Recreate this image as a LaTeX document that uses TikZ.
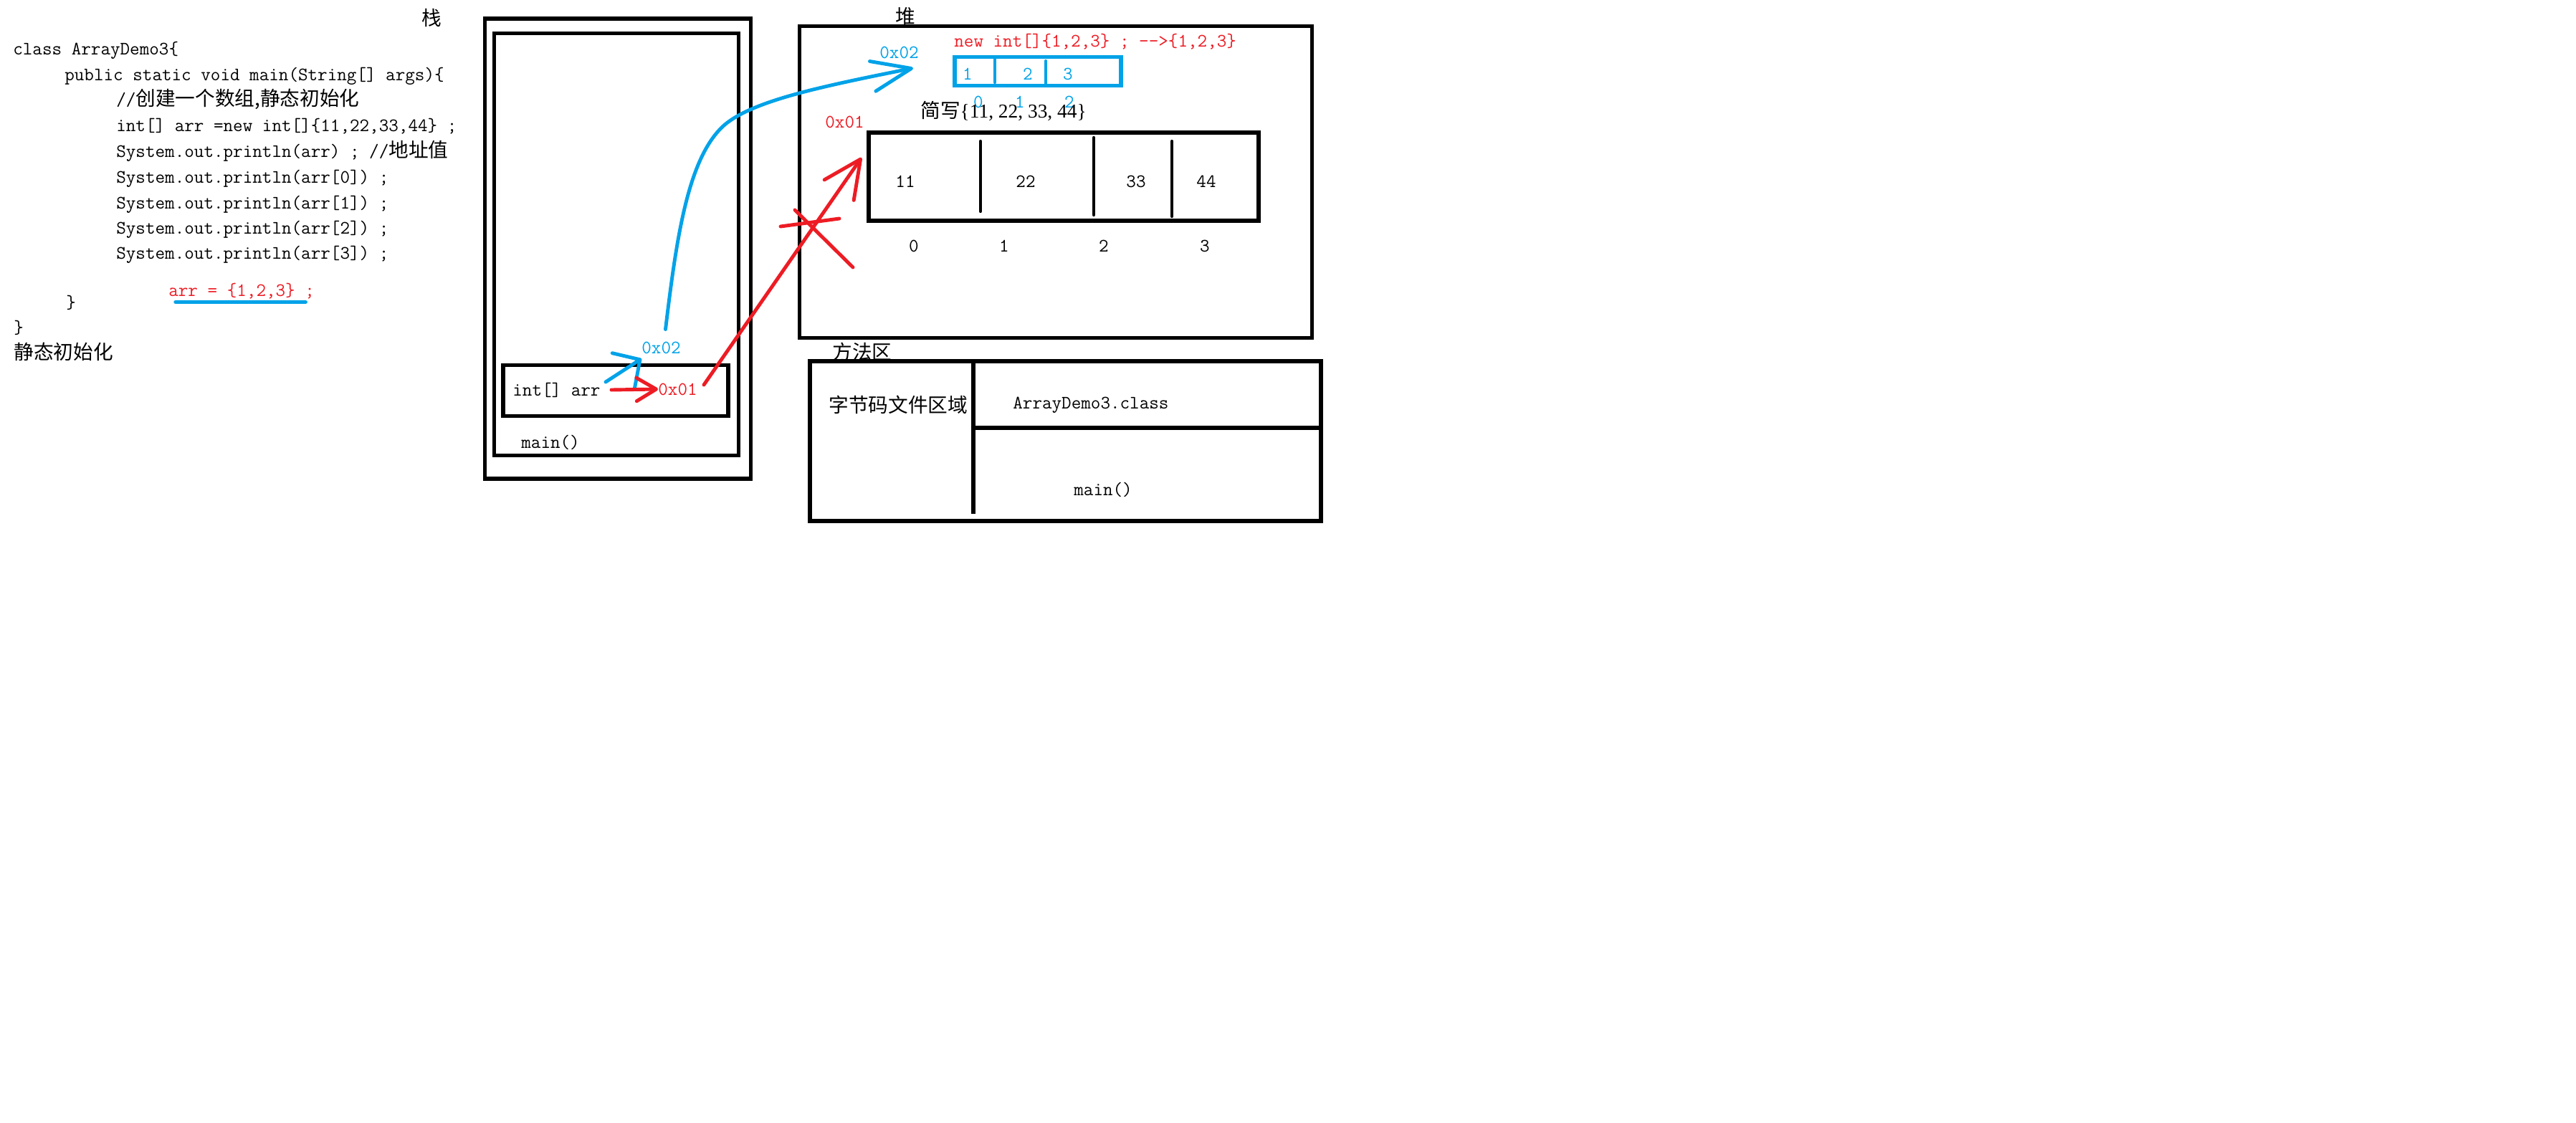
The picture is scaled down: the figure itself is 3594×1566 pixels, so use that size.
\documentclass[tikz,border=0pt]{standalone}
\usepackage{fontspec}
\newfontfamily\cjk[Scale=1.05]{Noto Sans CJK SC}
\newfontfamily\serifnum[Scale=1.04]{Liberation Serif}
\usetikzlibrary{arrows.meta}
\definecolor{paintblue}{RGB}{0,162,232}
\definecolor{paintred}{RGB}{237,28,36}
\newcommand{\codefont}{\ttfamily\fontsize{15pt}{18pt}\selectfont}
\tikzset{
  longbarb/.tip={Straight Barb[round, length=1.1cm, width=0.85cm]},
  bigbarb/.tip={Straight Barb[round, length=1.05cm, width=1.0cm]},
  smallbarb/.tip={Straight Barb[round, length=0.55cm, width=1.15cm]},
  redbarb/.tip={Straight Barb[round, length=0.55cm, width=0.65cm]}
}

\begin{document}
\begin{tikzpicture}[
  x=0.02cm, y=-0.02cm,
  txt/.style={font=\codefont, inner sep=0pt, anchor=west, text height=13.2pt, text depth=4pt},
  redtxt/.style={txt, text=paintred},
  bluetxt/.style={txt, text=paintblue},
  cell/.style={txt, anchor=center},
  bluecell/.style={bluetxt, anchor=center},
  boxline/.style={draw, line width=3pt, inner sep=0pt},
  sepline/.style={line width=3pt},
  divider/.style={line width=2.4pt, line cap=round},
  redpen/.style={draw=paintred, line width=2.8pt, line cap=round, line join=round},
  bluepen/.style={draw=paintblue, line width=2.8pt, line cap=round, line join=round}
]
\useasboundingbox (0,0) rectangle (3594,1566);

% ======================================================
% =============== CODE =================================
% ======================================================
\node[txt] (c1) at (18,68) {class ArrayDemo3\{};
\node[txt] (c2) at (90,104) {public static void main(String[] args)\{};
\node[txt] (c3) at (162,139) {//{\cjk 创建一个数组,静态初始化}};
\node[txt] (c4) at (162,175) {int[] arr =new int[]\{11,22,33,44\} ;};
\node[txt] (c5) at (162,211) {System.out.println(arr) ; //{\cjk 地址值}};
\node[txt] (c6) at (162,247) {System.out.println(arr[0]) ;};
\node[txt] (c7) at (162,283) {System.out.println(arr[1]) ;};
\node[txt] (c8) at (162,318) {System.out.println(arr[2]) ;};
\node[txt] (c9) at (162,353) {System.out.println(arr[3]) ;};
\node[redtxt] (c10) at (235,405) {arr = \{1,2,3\} ;};
\node[txt] (c11) at (92,422) {\}};
\node[txt] (c12) at (19,457) {\}};
\node[txt] (c13) at (19,493) {\cjk 静态初始化};

% underline
\draw[bluepen, line width=3pt] ([shift={(10,1)}]c10.south west) -- ([shift={(-13,1)}]c10.south east);

% ======================================================
% =============== STACK ================================
% ======================================================
\node[txt] (stackTitle) at (588,27) {\cjk 栈};
\node[boxline, minimum width=7.42cm, minimum height=12.84cm] (stack) at (862,347) {};
\node[boxline, minimum width=6.82cm, minimum height=11.78cm] (mainFrame) at (860,341) {};
\node[boxline, minimum width=6.28cm, minimum height=1.42cm] (arrSlot) at (859,545) {};
\node[txt] (arrVar) at (715,544) {int[] arr};
\node[txt] (mainLbl) at (727,617) {main()};
\node[bluetxt] (stkB) at (895,485) {0x02};
\node[redtxt] (stkA) at (918,543) {0x01};

% ======================================================
% =============== HEAP =================================
% ======================================================
\node[txt] (heapTitle) at (1249,25) {\cjk 堆};
\node[boxline, minimum width=14.3cm, minimum height=8.7cm] (heap) at (1473,254) {};
\node[redtxt] (newExpr) at (1331,57) {new int[]\{1,2,3\} ; -{}->\{1,2,3\}};
\node[bluetxt] (heapB) at (1227,73) {0x02};

% blue array
\node[boxline, draw=paintblue, minimum width=4.64cm, minimum height=0.8cm] (smallArr) at (1448,99.5) {};
\draw[divider, paintblue] (1388,83) -- (1388,115);
\draw[divider, paintblue] (1459,85) -- (1459,118);
\node[bluecell] (s1) at (1350,103) {1};
\node[bluecell] (s2) at (1434,103) {2};
\node[bluecell] (s3) at (1490,103) {3};
\node[bluecell] (si0) at (1365,142) {0};
\node[bluecell] (si1) at (1423,142) {1};
\node[bluecell] (si2) at (1492,142) {2};

\node[txt] (shortForm) at (1284,156) {{\cjk 简写}\serifnum\{11, 22, 33, 44\}};
\node[redtxt] (heapA) at (1151,170) {0x01};

% big array
\node[boxline, minimum width=10.88cm, minimum height=2.46cm] (bigArr) at (1484,246.5) {};
\draw[divider] (1368,197) -- (1368,295);
\draw[divider] (1526,192) -- (1526,300);
\draw[divider] (1635,197) -- (1635,302);
\node[cell] (v0) at (1263,253) {11};
\node[cell] (v1) at (1431,253) {22};
\node[cell] (v2) at (1585,253) {33};
\node[cell] (v3) at (1683,253) {44};
\node[cell] (i0) at (1275,343) {0};
\node[cell] (i1) at (1401,343) {1};
\node[cell] (i2) at (1540,343) {2};
\node[cell] (i3) at (1681,343) {3};

% ======================================================
% =============== METHOD AREA ==========================
% ======================================================
\node[txt] (methodTitle) at (1161,493) {\cjk 方法区};
\node[boxline, minimum width=14.26cm, minimum height=4.46cm] (method) at (1486.5,615.5) {};
\draw[sepline] (1358,507) -- (1358,717);
\draw[sepline] (1358,597) -- (1841,597);
\node[txt] (byteLbl) at (1156,567) {\cjk 字节码文件区域};
\node[txt] (classLbl) at (1413,562) {ArrayDemo3.class};
\node[txt] (methodMain) at (1498,683) {main()};

% ======================================================
% =============== POINTERS =============================
% ======================================================
\coordinate (bStart) at (845,533);
\coordinate (rStart) at (853,544);
\coordinate (bTip) at (1274,95);
\coordinate (rTip) at (1202,220);

\draw[bluepen, -{smallbarb}] (bStart) -- (stkB.south west);
\draw[redpen, -{redbarb}] (rStart) -- (stkA.west);
\draw[bluepen, -{longbarb}] ([shift={(6,-10)}]stkB.north)
  .. controls (944,330) and (960,220) .. (1010,175)
  .. controls (1050,140) and (1150,120) .. (bTip);
\draw[redpen, -{bigbarb}] ([shift={(9,-6)}]stkA.east) -- (rTip);

% cross
\draw[redpen] (1109,293) -- (1190,373);
\draw[redpen] (1089,316) -- (1171,305);

\end{tikzpicture}
\end{document}
